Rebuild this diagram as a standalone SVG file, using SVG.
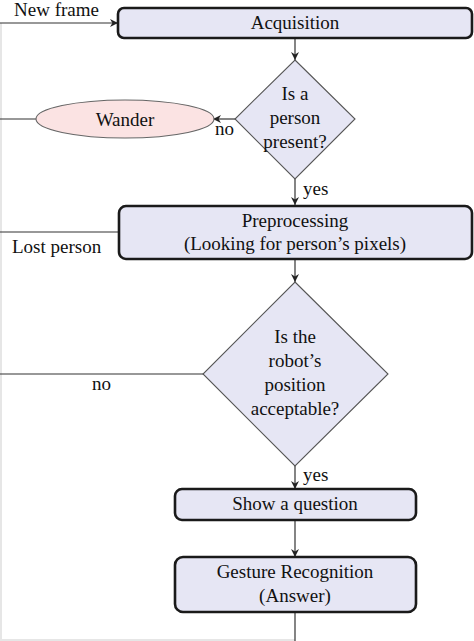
<svg xmlns="http://www.w3.org/2000/svg" width="474" height="641" viewBox="0 0 474 641">
<style>
text{font-family:"Liberation Serif","Times New Roman",serif;font-size:19px;fill:#111}
.c{text-anchor:middle}
.box{fill:#e6e6f4;stroke:#1a1a1a;stroke-width:2.6}
.dia{fill:#e6e6f4;stroke:#555;stroke-width:1.1}
.ell{fill:#fbe3e3;stroke:#666;stroke-width:1.1}
.ln{fill:none;stroke:#333;stroke-width:1.2}
.faint{fill:none;stroke:#e6e6e6;stroke-width:2}
</style>
<defs>
<marker id="ah" viewBox="0 0 10 10" refX="10" refY="5" markerWidth="8" markerHeight="8" markerUnits="userSpaceOnUse" orient="auto">
<path d="M0,0 L10,5 L0,10 L3,5 Z" fill="#222"/>
</marker>
</defs>
<rect width="474" height="641" fill="#fff"/>
<g id="connectors">
<line class="faint" x1="1" y1="23" x2="1" y2="640"/>
<line class="faint" x1="0" y1="640" x2="295" y2="640"/>
<line class="ln" x1="0" y1="23" x2="118" y2="23" marker-end="url(#ah)"/>
<line class="ln" x1="295" y1="38" x2="295" y2="60" marker-end="url(#ah)"/>
<line class="ln" x1="235" y1="119" x2="213" y2="119" marker-end="url(#ah)"/>
<line class="ln" x1="36" y1="119" x2="0" y2="119"/>
<line class="ln" x1="295" y1="179" x2="295" y2="205" marker-end="url(#ah)"/>
<line class="ln" x1="119" y1="232" x2="0" y2="232"/>
<line class="ln" x1="295" y1="259" x2="295" y2="282" marker-end="url(#ah)"/>
<line class="ln" x1="203" y1="374" x2="0" y2="374"/>
<line class="ln" x1="295" y1="466" x2="295" y2="489" marker-end="url(#ah)"/>
<line class="ln" x1="295" y1="520" x2="295" y2="557" marker-end="url(#ah)"/>
<line class="ln" x1="295" y1="612" x2="295" y2="641"/>
<text x="14" y="16">New frame</text>
<text x="215" y="135">no</text>
<text x="303" y="195">yes</text>
<text x="12" y="253">Lost person</text>
<text x="92" y="390">no</text>
<text x="303" y="481">yes</text>
</g>
<g id="acquisition">
<rect class="box" x="118" y="8" width="354" height="30" rx="6"/>
<text class="c" x="295" y="29">Acquisition</text>
</g>
<g id="person-present">
<polygon class="dia" points="295,60 355,119 295,179 235,119"/>
<text class="c" x="295" y="100">Is a</text>
<text class="c" x="295" y="124">person</text>
<text class="c" x="295" y="148">present?</text>
</g>
<g id="wander">
<ellipse class="ell" cx="125" cy="119" rx="89" ry="19"/>
<text class="c" x="125" y="126">Wander</text>
</g>
<g id="preprocessing">
<rect class="box" x="119" y="206" width="353" height="53" rx="7"/>
<text class="c" x="295" y="227">Preprocessing</text>
<text class="c" x="295" y="250">(Looking for person’s pixels)</text>
</g>
<g id="position-acceptable">
<polygon class="dia" points="295,282 388,374 295,466 203,374"/>
<text class="c" x="295" y="343">Is the</text>
<text class="c" x="295" y="367">robot’s</text>
<text class="c" x="295" y="391">position</text>
<text class="c" x="295" y="415">acceptable?</text>
</g>
<g id="show-question">
<rect class="box" x="175" y="489" width="241" height="31" rx="7"/>
<text class="c" x="295" y="510">Show a question</text>
</g>
<g id="gesture-recognition">
<rect class="box" x="175" y="557" width="241" height="55" rx="8"/>
<text class="c" x="295" y="578">Gesture Recognition</text>
<text class="c" x="295" y="602">(Answer)</text>
</g>
</svg>
